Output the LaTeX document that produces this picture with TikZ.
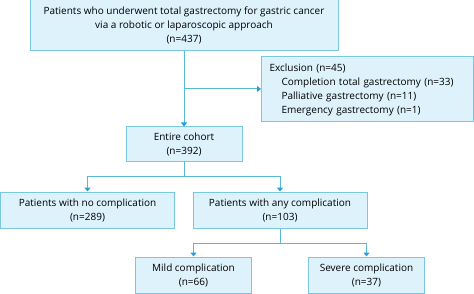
\documentclass[tikz,border=0pt]{standalone}
\usepackage{fontspec}
\setmainfont{Open Sans}
\usepackage{tikz}
\usetikzlibrary{arrows.meta}
\definecolor{boxline}{RGB}{122,200,224}
\definecolor{boxfill}{RGB}{221,242,251}
\definecolor{arrowline}{RGB}{88,186,215}
\definecolor{arrowtip}{RGB}{40,160,214}

\begin{document}
\begin{tikzpicture}[x=1pt, y=-1pt, >={Triangle[width=6pt,length=4pt,color=arrowtip]},
    box/.style={draw=boxline, fill=boxfill, line width=1pt, inner sep=0pt, align=center,
        font=\fontsize{10}{14}\selectfont},
    link/.style={draw=arrowline, line width=1pt}]
        \useasboundingbox (0,0) rectangle (474,294);
        \path 
        (184,25.5)  coordinate (p1)
        (367.5,89.5) coordinate (p2)
        (184,144.5) coordinate (p3)
        (87.5,210) coordinate (p4)
        (280,210) coordinate (p5)
        (193.5,275) coordinate (p6)
        (366.5,275) coordinate (p7)
        (184,89) coordinate (branch)
        (184,177) coordinate (split1)
        (280,243) coordinate (split2)
        ;
        
        \node[box, minimum width=308, minimum height=51] (all) at (p1)
            {Patients who underwent total gastrectomy for gastric cancer\\via a robotic or laparoscopic approach\\(n=437)};
        \node[box, minimum width=212, minimum height=65, align=left, text width=196] (excl) at (p2)
            {Exclusion (n=45)\\\hspace*{12pt}Completion total gastrectomy (n=33)\\\hspace*{12pt}Palliative gastrectomy (n=11)\\\hspace*{12pt}Emergency gastrectomy (n=1)};
        \node[box, minimum width=116, minimum height=35] (cohort) at (p3) {Entire cohort\\(n=392)};
        \node[box, minimum width=174, minimum height=36] (none) at (p4) {Patients with no complication\\(n=289)};
        \node[box, minimum width=174, minimum height=36] (any) at (p5) {Patients with any complication\\(n=103)};
        \node[box, minimum width=116, minimum height=36] (mild) at (p6) {Mild complication\\(n=66)};
        \node[box, minimum width=116, minimum height=36] (severe) at (p7) {Severe complication\\(n=37)};
        
        \draw[link,->] (all) -- (cohort);
        \draw[link,->] (branch) -- (branch -| excl.west);
        
        \draw[link] (cohort) -- (split1);
        \draw[link,->] (split1) -| (none);
        \draw[link,->] (split1) -| (any);
        
        \draw[link] (any) -- (split2);
        \draw[link,->] (split2) -| (mild);
        \draw[link,->] (split2) -| (severe);
\end{tikzpicture}
\end{document}
